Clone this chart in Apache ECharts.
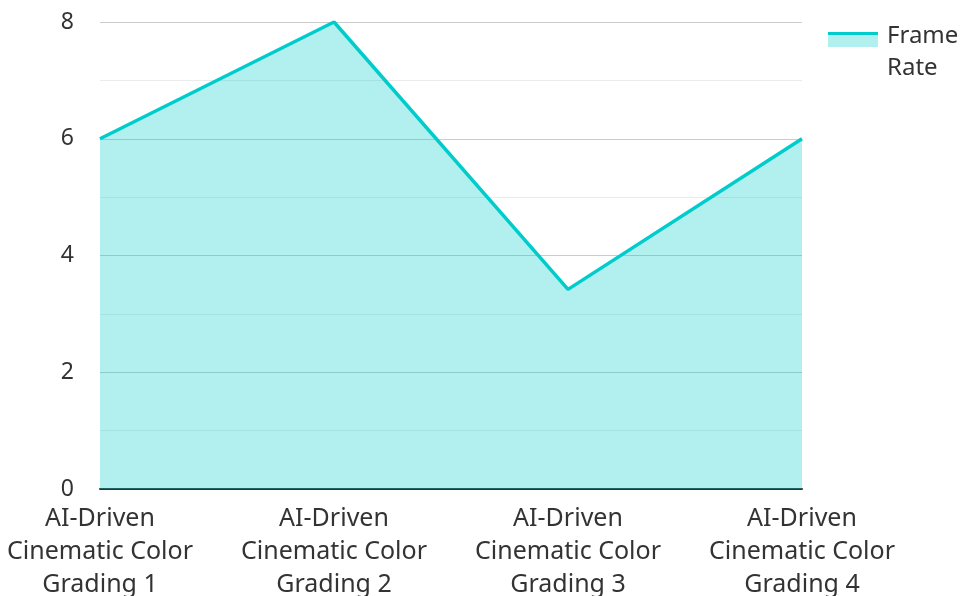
<!DOCTYPE html>
<html>
<head>
<meta charset="utf-8">
<script src="https://cdn.jsdelivr.net/npm/echarts@6/dist/echarts.min.js"></script>
<style>
  html, body { margin: 0; padding: 0; background: #fff; }
  #chart { width: 962px; height: 596px; }
</style>
</head>
<body>
<div id="chart"></div>
<script>
const categories = [
  "AI-Driven Cinematic Color Grading 1",
  "AI-Driven Cinematic Color Grading 2",
  "AI-Driven Cinematic Color Grading 3",
  "AI-Driven Cinematic Color Grading 4",
];
const frameRate = [6, 8, 3.42, 6];
const seriesName = "Frame Rate";

const legendText = {
  fontSize: 24,
  color: "#333",
  width: 80,
  overflow: "break",
  lineHeight: 32,
};
// icons drawn in a 54x64 box (same height as the two text lines),
// tiny corner dots pin the bounding box so the swatch sits by the first line
const pin = "M0,0h0.01v0.01h-0.01z M54,64h-0.01v-0.01h0.01z";
const fillIcon = "path://" + pin + " M0,12h50v15h-50z";
const lineIcon = "path://" + pin + " M0,12h50v3h-50z";

const legendBase = {
  left: 828,
  top: 20,
  padding: 0,
  orient: "vertical",
  itemWidth: 54,
  itemHeight: 64,
};

const chart = echarts.init(document.getElementById("chart"));
chart.setOption({
  textStyle: { fontFamily: "Noto Sans" },
  legend: [
    Object.assign({}, legendBase, {
      textStyle: legendText,
      itemStyle: { color: "#b2efef" },
      data: [{ name: seriesName, icon: fillIcon }],
    }),
    Object.assign({}, legendBase, {
      textStyle: Object.assign({}, legendText, { color: "transparent" }),
      itemStyle: { color: "#00cccc" },
      data: [{ name: seriesName, icon: lineIcon }],
    }),
  ],
  grid: {
    left: 100,
    right: 160,
    top: 22,
    bottom: 107,
    outerBoundsMode: "none",
  },
  xAxis: {
    type: "category",
    boundaryGap: false,
    data: categories,
    axisTick: { show: false },
    axisLine: { lineStyle: { color: "#333", width: 2 } },
    axisLabel: {
      interval: 0,
      fontSize: 25,
      color: "#333",
      lineHeight: 33,
      margin: 13,
      formatter: (v) => v.replace(" Cinematic Color ", "\nCinematic Color\n"),
    },
  },
  yAxis: {
    type: "value",
    min: 0,
    max: 8,
    interval: 2,
    axisLine: { show: false },
    axisTick: { show: false },
    axisLabel: { fontSize: 23, color: "#333", margin: 26 },
    splitLine: { lineStyle: { color: "#cccccc", width: 1 } },
    minorTick: { show: false, splitNumber: 2 },
    minorSplitLine: { show: true, lineStyle: { color: "#ebebeb", width: 1 } },
  },
  series: [
    {
      name: seriesName,
      type: "line",
      data: frameRate,
      symbol: "none",
      lineStyle: { color: "#00cccc", width: 3.5 },
      itemStyle: { color: "#00cccc" },
      areaStyle: { color: "rgba(0, 204, 204, 0.3)", opacity: 1 },
    },
  ],
});
</script>
</body>
</html>
